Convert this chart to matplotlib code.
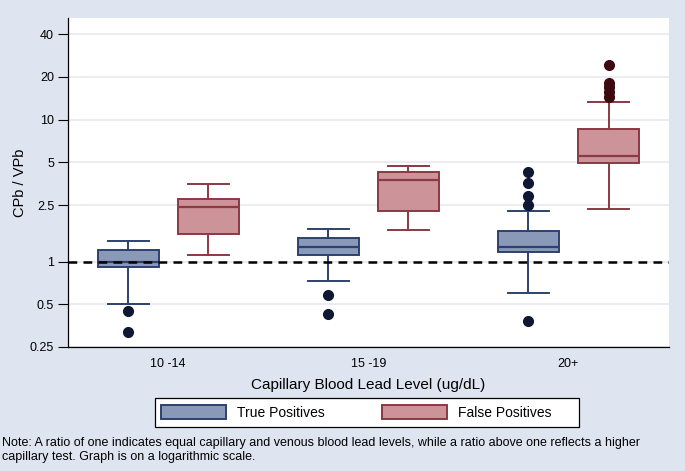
import matplotlib
matplotlib.use("Agg")
import matplotlib.pyplot as plt
import matplotlib.patches as mpatches
import matplotlib.ticker as mticker

plt.rcParams['font.family'] = ['Liberation Sans', 'DejaVu Sans']

# categories and box statistics (CPb / VPb ratio)
groups = ['10 -14', '15 -19', '20+']

tp_whislo = [0.50, 0.73, 0.60]
tp_q1 = [0.91, 1.12, 1.17]
tp_med = [1.00, 1.27, 1.27]
tp_q3 = [1.20, 1.46, 1.64]
tp_whishi = [1.40, 1.69, 2.28]
tp_fliers = [[0.45, 0.32], [0.58, 0.43], [0.38, 2.50, 2.90, 3.59, 4.27]]

fp_whislo = [1.11, 1.67, 2.33]
fp_q1 = [1.56, 2.28, 4.97]
fp_med = [2.41, 3.75, 5.54]
fp_q3 = [2.74, 4.25, 8.55]
fp_whishi = [3.52, 4.74, 13.2]
fp_fliers = [[], [], [14.4, 15.6, 16.9, 18.1, 24.4]]

y_ticks = [0.25, 0.5, 1, 2.5, 5, 10, 20, 40]
y_tick_labels = ['0.25', '0.5', '1', '2.5', '5', '10', '20', '40']

BG = '#dfe5f0'
TP_FILL, TP_EDGE, TP_DOT = '#8b99b8', '#2c416e', '#0e1833'
FP_FILL, FP_EDGE, FP_DOT = '#cc9499', '#8b3942', '#3d0a12'


def make_stats(lo, q1, med, q3, hi, fliers):
    return [dict(whislo=a, q1=b, med=c, q3=d, whishi=e, fliers=f)
            for a, b, c, d, e, f in zip(lo, q1, med, q3, hi, fliers)]


fig = plt.figure(figsize=(6.85, 4.71), dpi=100)
fig.patch.set_facecolor(BG)
ax = fig.add_axes([0.0993, 0.2633, 0.8767, 0.6985])
ax.set_facecolor('white')

ax.set_yscale('log')
ax.set_ylim(0.25, 52)
ax.set_xlim(0.5, 3.5)

for y in y_ticks:
    ax.axhline(y, color='#e6e9ef', lw=1.2, zorder=0)

pos = [1, 2, 3]
offset = 0.2
width = 0.305

for stats, shift, fill, edge, dot in [
        (make_stats(tp_whislo, tp_q1, tp_med, tp_q3, tp_whishi, tp_fliers),
         -offset, TP_FILL, TP_EDGE, TP_DOT),
        (make_stats(fp_whislo, fp_q1, fp_med, fp_q3, fp_whishi, fp_fliers),
         offset, FP_FILL, FP_EDGE, FP_DOT)]:
    ax.bxp(stats, positions=[p + shift for p in pos], widths=width,
           capwidths=0.205, patch_artist=True, manage_ticks=False,
           boxprops=dict(facecolor=fill, edgecolor=edge, lw=1.4),
           medianprops=dict(color=edge, lw=1.6),
           whiskerprops=dict(color=edge, lw=1.4),
           capprops=dict(color=edge, lw=1.4),
           flierprops=dict(marker='o', markersize=7, markerfacecolor=dot,
                           markeredgecolor=dot), zorder=3)

ax.axhline(1, color='black', lw=1.8, ls=(0, (3.5, 2.5)), zorder=4)

ax.set_yticks(y_ticks)
ax.set_yticklabels(y_tick_labels)
ax.yaxis.set_minor_locator(mticker.NullLocator())
ax.set_xticks(pos)
ax.set_xticklabels(groups)
ax.tick_params(axis='y', length=7, width=0.8, labelsize=9, pad=3)
ax.tick_params(axis='x', length=0, labelsize=9, pad=8)

for s in ['top', 'right']:
    ax.spines[s].set_visible(False)
ax.spines['left'].set_linewidth(0.9)
ax.spines['bottom'].set_linewidth(0.9)

ax.set_ylabel('CPb / VPb', fontsize=10.5, labelpad=2)
ax.set_xlabel('Capillary Blood Lead Level (ug/dL)', fontsize=11, labelpad=6)

# legend frame drawn separately (the original has extra room on the right)
frame = mpatches.Rectangle((155 / 685, 1 - 427 / 471), 424 / 685, 29 / 471,
                           transform=fig.transFigure, facecolor='white',
                           edgecolor='black', lw=0.9)
fig.patches.append(frame)

handles = [mpatches.Patch(facecolor=TP_FILL, edgecolor=TP_EDGE, lw=1.4,
                          label='True Positives'),
           mpatches.Patch(facecolor=FP_FILL, edgecolor=FP_EDGE, lw=1.4,
                          label='False Positives')]
fig.legend(handles=handles, loc='center left',
           bbox_to_anchor=(155 / 685, 1 - 412.5 / 471),
           ncol=2, fontsize=10, handlelength=4.7, handleheight=1.2,
           columnspacing=4.1, handletextpad=0.8, borderpad=0.4,
           borderaxespad=0, frameon=False)

fig.text(0.003, 0.045,
         'Note: A ratio of one indicates equal capillary and venous blood lead '
         'levels, while a ratio above one reflects a higher\ncapillary test. '
         'Graph is on a logarithmic scale.',
         fontsize=9, va='center', ha='left', linespacing=1.2)

fig.savefig('out.png', dpi=100, facecolor=BG)
